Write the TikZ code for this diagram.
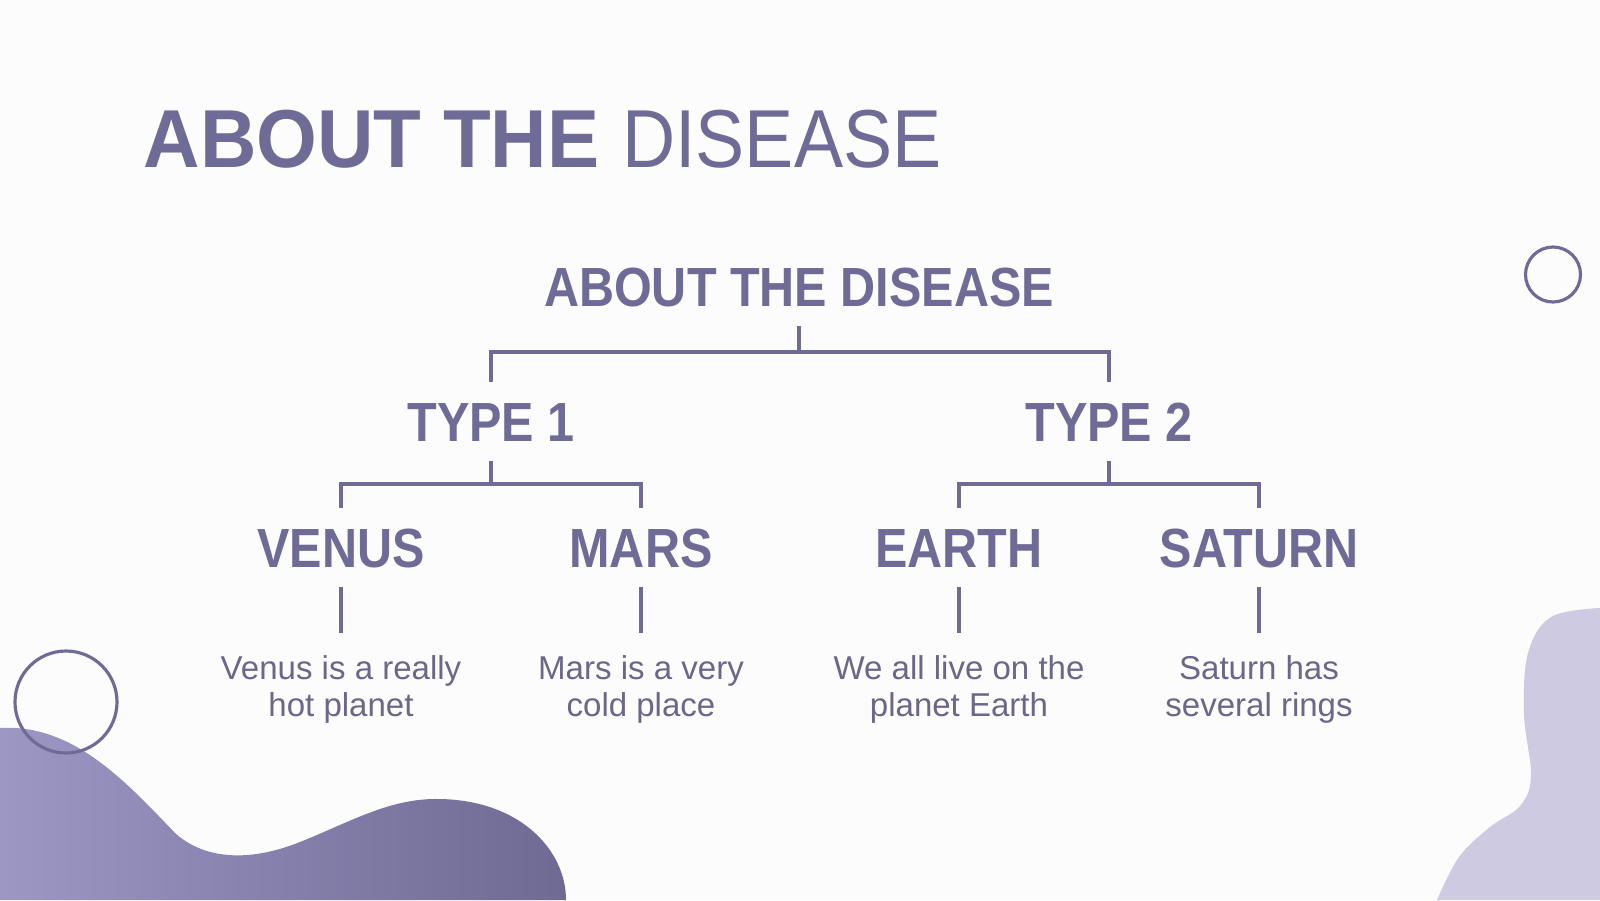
\documentclass[tikz,border=0pt]{standalone}
\usepackage{fontspec}
\setmainfont{Liberation Sans}[BoldFeatures={FakeStretch=0.88}]
\newfontfamily\lightfont{Liberation Sans}[FakeStretch=0.895]
\newfontfamily\titlebold{Liberation Sans}[FakeStretch=0.95]
\usetikzlibrary{calc}
\definecolor{ink}{HTML}{6F6B97}
\definecolor{softink}{HTML}{6B6789}
\definecolor{blobdark}{HTML}{6E6A94}
\definecolor{bloblight}{HTML}{9D97C3}
\definecolor{blobpale}{HTML}{CDCAE1}
\definecolor{paper}{HTML}{FCFCFD}
\tikzset{
  head/.style={font=\bfseries\fontsize{15.7}{18}\selectfont, text=ink, inner sep=0pt,
    text height=11.2pt, text depth=0pt, outer ysep=0.2cm},
  note/.style={font=\fontsize{9.4}{10.5}\selectfont, text=softink, align=center,
    inner sep=0pt, outer ysep=0.23cm},
  link/.style={draw=ink, line width=0.9pt},
  ring/.style={draw=ink, line width=0.9pt}
}

\begin{document}
\begin{tikzpicture}
			%%%%% BACKGROUND %%%%%
			
			\fill[paper] (0,0) rectangle (16,9);
			\useasboundingbox (0,0) rectangle (16,9);
			
			\shade[left color=bloblight, right color=blobdark] (0,0) -- (0,1.72)
			  .. controls (0.70,1.76) and (1.20,1.25) .. (1.75,0.67)
			  .. controls (2.05,0.40) and (2.50,0.38) .. (3.00,0.58)
			  .. controls (3.50,0.78) and (3.90,1.02) .. (4.39,1.01)
			  .. controls (5.20,1.00) and (5.66,0.50) .. (5.66,0) -- cycle;
			\fill[blobpale] (16,0) -- plot[smooth, tension=0.6] coordinates {(16,2.92) (15.51,2.83) (15.28,2.47) (15.24,1.86) (15.31,1.24) (15.20,0.94) (14.90,0.73) (14.59,0.43) (14.37,0)} -- cycle;
			
			\draw[ring] (15.53,6.255) circle (0.275);
			\draw[ring] (0.66,1.98) circle (0.51);
			
			%%%%% TITLE %%%%%
			
			\node[anchor=base west, text=ink, inner sep=0pt] (title) at (1.43,7.32)
			  {\fontsize{23.4}{28}\selectfont{\titlebold\bfseries ABOUT THE} \lightfont DISEASE};
			
			%%%%% TREE %%%%%
			
			\node[head, anchor=base] (root) at (7.99,5.94) {ABOUT THE DISEASE};
			
			\node[head, anchor=base] (type1) at (4.91,4.59) {TYPE 1};
			\node[head, anchor=base] (type2) at (11.09,4.59) {TYPE 2};
			
			\node[head, anchor=base] (venus) at (3.41,3.33) {VENUS};
			\node[head, anchor=base] (mars) at (6.41,3.33) {MARS};
			\node[head, anchor=base] (earth) at (9.59,3.33) {EARTH};
			\node[head, anchor=base] (saturn) at (12.59,3.33) {SATURN};
			
			\node[note, anchor=north] (venusnote) at (3.41,2.67) {Venus is a really\\hot planet};
			\node[note, anchor=north] (marsnote) at (6.41,2.67) {Mars is a very\\cold place};
			\node[note, anchor=north] (earthnote) at (9.59,2.67) {We all live on the\\planet Earth};
			\node[note, anchor=north] (saturnnote) at (12.59,2.67) {Saturn has\\several rings};
			
			\draw[link] (root.south) -- ++(0,-0.26) -| (type1.north);
			\draw[link] (root.south) -- ++(0,-0.26) -| (type2.north);
			
			\foreach \t/\a/\b in {type1/venus/mars, type2/earth/saturn} {
				\draw[link] (\t.south) -- ++(0,-0.23) -| (\a.north);
				\draw[link] (\t.south) -- ++(0,-0.23) -| (\b.north);
			}
			
			\foreach \p in {venus, mars, earth, saturn}
				\draw[link] (\p.south) -- (\p note.north);
			
		\end{tikzpicture}
\end{document}
